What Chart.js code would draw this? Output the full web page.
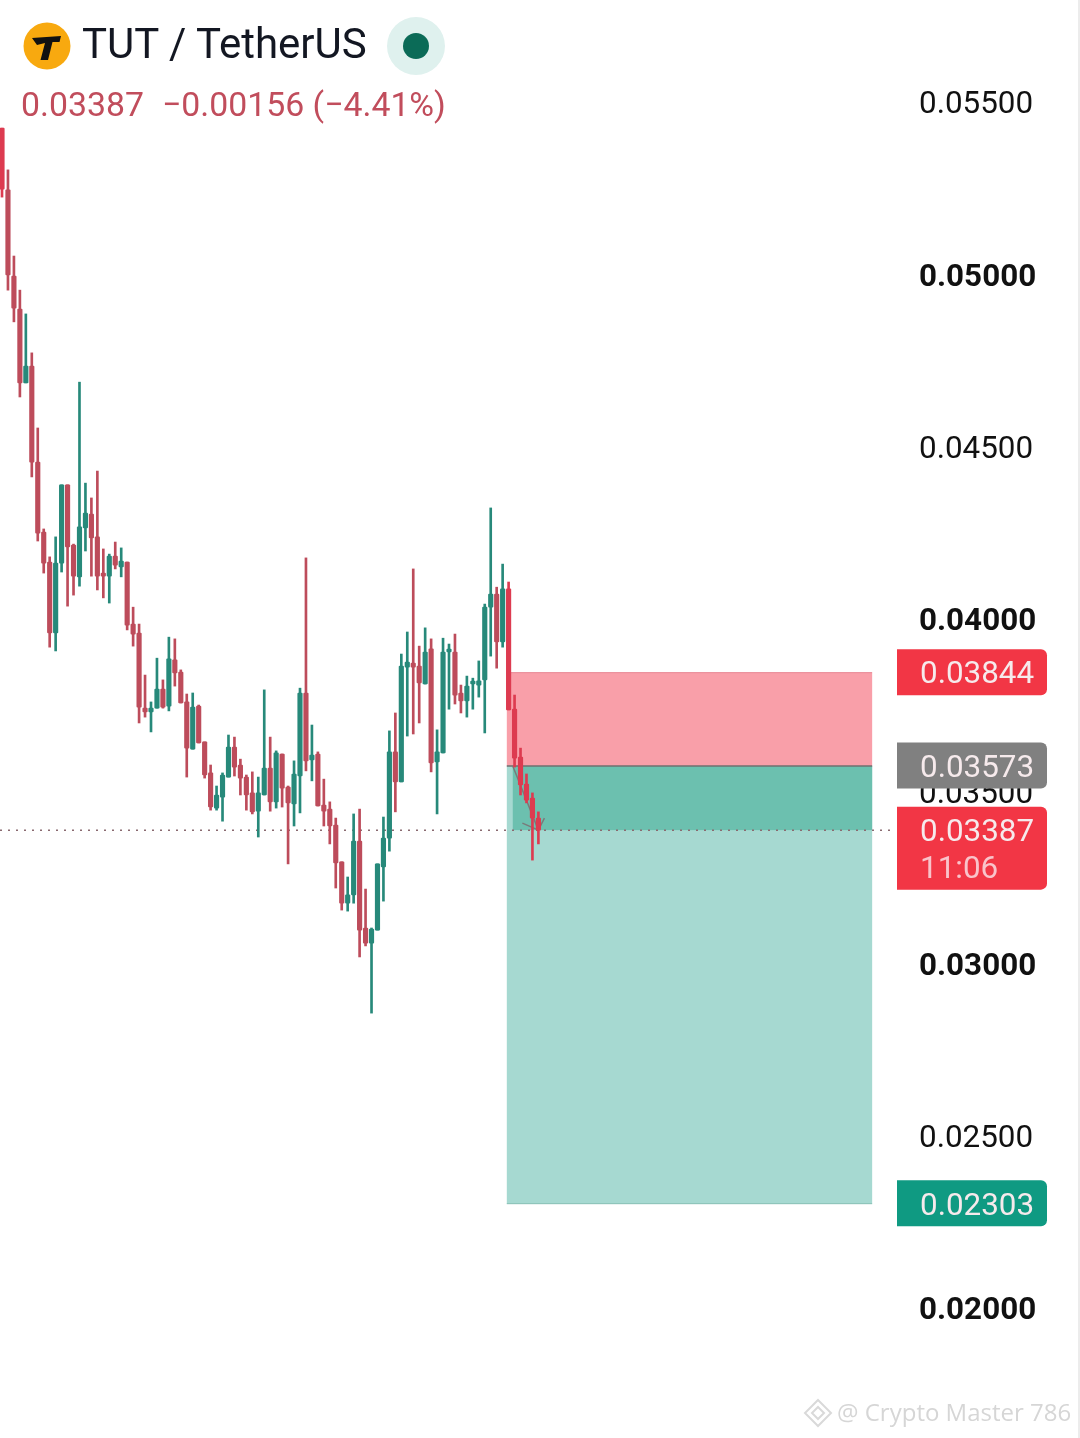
<!DOCTYPE html>
<html>
<head>
<meta charset="utf-8">
<title>TUT / TetherUS</title>
<script src="https://cdn.jsdelivr.net/npm/chart.js@4"></script>
<style>
  html, body { margin: 0; padding: 0; background: #fff; }
  #page { position: relative; width: 1080px; height: 1438px; overflow: hidden; font-family: Roboto, sans-serif; background: #fff; }
  #chartBox { position: absolute; left: 0; top: 0; width: 1080px; height: 1438px; }
  #edge { position: absolute; left: 1078px; top: 0; width: 2px; height: 1438px; background: #ececec; }
  .txt { position: absolute; white-space: pre; line-height: 1; }
  #pair { left: 82px; top: 23px; font-size: 42px; color: #131722; }
  #lastPrice { left: 21px; top: 88px; font-size: 33.8px; color: #c14d5c; }
  #change { left: 162px; top: 88px; font-size: 33.8px; color: #c14d5c; }
  #mark { left: 837px; top: 1400px; font-family: "Open Sans", sans-serif; font-size: 24px; color: #d6d6d6; }
  svg { position: absolute; }
</style>
</head>
<body>
<div id="page">
  <div id="chartBox"><canvas id="candles"></canvas></div>
  <div id="edge"></div>
  <svg style="left:22px;top:21px" width="50" height="50" viewBox="0 0 50 50">
    <circle cx="25" cy="25" r="23.5" fill="#f8a90f"/>
    <path d="M10 17 L39 15 L37.5 21 L30.5 21 L26 39 L18.5 39 L23 22 L15 24 Z" fill="#111"/>
  </svg>
  <div class="txt" id="pair">TUT / TetherUS</div>
  <svg style="left:387px;top:17px" width="58" height="58" viewBox="0 0 58 58">
    <circle cx="29" cy="29" r="29" fill="#dff1ee"/>
    <circle cx="29" cy="29" r="13" fill="#0b6b57"/>
  </svg>
  <div class="txt" id="lastPrice">0.03387</div>
  <div class="txt" id="change">−0.00156 (−4.41%)</div>
  <svg style="left:803px;top:1398px" width="30" height="30" viewBox="0 0 30 30" fill="none" stroke="#d9d9d9" stroke-width="2">
    <path d="M15 2 L28 15 L15 28 L2 15 Z"/>
    <path d="M15 9 L21 15 L15 21 L9 15 Z"/>
  </svg>
  <div class="txt" id="mark">@ Crypto Master 786</div>
</div>

<script>
// --- Candle data ---
const opens = [
  0.05424, 0.05245, 0.04995, 0.04899, 0.04685, 0.04734, 0.04455, 0.04252, 0.04165, 0.03959,
  0.04162, 0.04389, 0.04214, 0.04122, 0.04264, 0.04304, 0.04238, 0.04133, 0.04124, 0.04182,
  0.04151, 0.04165, 0.03985, 0.03959, 0.03741, 0.03730, 0.03741, 0.03796, 0.03747, 0.03881,
  0.03846, 0.03759, 0.03622, 0.03747, 0.03643, 0.03553, 0.03451, 0.03483, 0.03541, 0.03628,
  0.03576, 0.03541, 0.03495, 0.03442, 0.03489, 0.03567, 0.03469, 0.03608, 0.03512, 0.03463,
  0.03544, 0.03785, 0.03591, 0.03608, 0.03460, 0.03448, 0.03402, 0.03295, 0.03175, 0.03199,
  0.03355, 0.03103, 0.03059, 0.03097, 0.03280, 0.03364, 0.03614, 0.03527, 0.03860, 0.03872,
  0.03863, 0.03811, 0.03913, 0.03585, 0.03611, 0.03904, 0.03904, 0.03785, 0.03762, 0.03811,
  0.03808, 0.03823, 0.04034, 0.04072, 0.03933, 0.04087, 0.03738, 0.03599, 0.03521, 0.03480,
  0.03422
];
const highs = [
  0.05424, 0.05303, 0.05053, 0.04954, 0.04885, 0.04772, 0.04554, 0.04261, 0.04180, 0.04238,
  0.04389, 0.04389, 0.04217, 0.04687, 0.04394, 0.04351, 0.04429, 0.04203, 0.04188, 0.04223,
  0.04206, 0.04165, 0.04034, 0.03985, 0.03837, 0.03759, 0.03886, 0.03823, 0.03947, 0.03942,
  0.03852, 0.03782, 0.03785, 0.03750, 0.03643, 0.03576, 0.03515, 0.03553, 0.03663, 0.03657,
  0.03593, 0.03547, 0.03556, 0.03541, 0.03794, 0.03657, 0.03617, 0.03608, 0.03515, 0.03588,
  0.03799, 0.04177, 0.03692, 0.03614, 0.03535, 0.03469, 0.03422, 0.03295, 0.03251, 0.03434,
  0.03448, 0.03216, 0.03103, 0.03289, 0.03425, 0.03675, 0.03727, 0.03898, 0.03962, 0.04145,
  0.03921, 0.03974, 0.03942, 0.03678, 0.03944, 0.03927, 0.03956, 0.03808, 0.03834, 0.03828,
  0.03878, 0.04043, 0.04322, 0.04092, 0.04159, 0.04107, 0.03779, 0.03625, 0.03550, 0.03495,
  0.03440
];
const lows = [
  0.05224, 0.04954, 0.04862, 0.04644, 0.04685, 0.04412, 0.04226, 0.04133, 0.03918, 0.03907,
  0.04136, 0.04037, 0.04069, 0.04095, 0.04197, 0.04124, 0.04084, 0.04061, 0.04046, 0.04145,
  0.04122, 0.03968, 0.03921, 0.03698, 0.03715, 0.03672, 0.03741, 0.03741, 0.03733, 0.03805,
  0.03756, 0.03541, 0.03622, 0.03640, 0.03538, 0.03445, 0.03445, 0.03413, 0.03541, 0.03544,
  0.03489, 0.03445, 0.03434, 0.03367, 0.03489, 0.03442, 0.03451, 0.03454, 0.03289, 0.03399,
  0.03437, 0.03559, 0.03530, 0.03457, 0.03399, 0.03347, 0.03219, 0.03155, 0.03152, 0.03175,
  0.03019, 0.03051, 0.02856, 0.03097, 0.03181, 0.03326, 0.03440, 0.03527, 0.03660, 0.03666,
  0.03698, 0.03811, 0.03556, 0.03434, 0.03611, 0.03738, 0.03753, 0.03727, 0.03715, 0.03738,
  0.03773, 0.03669, 0.03892, 0.03857, 0.03918, 0.03736, 0.03570, 0.03489, 0.03466, 0.03300,
  0.03347
];
const closes = [
  0.05247, 0.04998, 0.04902, 0.04685, 0.04734, 0.04455, 0.04249, 0.04162, 0.03959, 0.04162,
  0.04389, 0.04209, 0.04124, 0.04267, 0.04307, 0.04235, 0.04124, 0.04124, 0.04182, 0.04156,
  0.04168, 0.03982, 0.03956, 0.03744, 0.03730, 0.03741, 0.03796, 0.03744, 0.03884, 0.03843,
  0.03756, 0.03625, 0.03744, 0.03640, 0.03547, 0.03454, 0.03489, 0.03547, 0.03628, 0.03570,
  0.03538, 0.03489, 0.03440, 0.03495, 0.03567, 0.03469, 0.03611, 0.03509, 0.03466, 0.03550,
  0.03785, 0.03588, 0.03605, 0.03457, 0.03442, 0.03399, 0.03292, 0.03175, 0.03199, 0.03355,
  0.03097, 0.03059, 0.03100, 0.03289, 0.03364, 0.03614, 0.03527, 0.03863, 0.03875, 0.03860,
  0.03814, 0.03904, 0.03582, 0.03614, 0.03904, 0.03910, 0.03779, 0.03762, 0.03805, 0.03814,
  0.03820, 0.04034, 0.04072, 0.03933, 0.04087, 0.03736, 0.03596, 0.03518, 0.03474, 0.03422,
  0.03387
];
const tickPrices = [0.055, 0.05, 0.045, 0.04, 0.035, 0.03, 0.025, 0.02];
const boldTicks = [0.05, 0.04, 0.03, 0.02];

// --- Position tool levels ---
const stopPrice = 0.03844;
const entryPrice = 0.03573;
const lastPrice = 0.03387;
const targetPrice = 0.02303;
const countdown = '11:06';

// --- Styles ---
const RED = '#bd4c5b';
const BRIGHT_RED = '#dd3b50';
const GREEN = '#27897a';
const brightCandles = [0, 85, 86, 87, 88, 89, 90];
const colors = opens.map((o, i) => {
    if (closes[i] >= o) return GREEN;
    return brightCandles.includes(i) ? BRIGHT_RED : RED;
});

const bodyData = opens.map((o, i) => ({ x: i, y: [Math.min(o, closes[i]), Math.max(o, closes[i])] }));
const wickData = opens.map((o, i) => ({ x: i, y: [lows[i], highs[i]] }));

// x scale runs in candle indexes, one candle is 5.96px wide
const X_MIN = -0.336;
const X_MAX = 153.86;
const BOX_START = 84.7;
const BOX_FILLED_START = 85.7;
const BOX_END = 146;
const LINE_END = 149;

const positionBoxes = {
    id: 'positionBoxes',
    beforeDatasetsDraw(chart) {
        const { ctx, scales: { x, y } } = chart;
        const left = x.getPixelForValue(BOX_START);
        const filledLeft = x.getPixelForValue(BOX_FILLED_START);
        const right = x.getPixelForValue(BOX_END);
        const stopY = y.getPixelForValue(stopPrice);
        const entryY = y.getPixelForValue(entryPrice);
        const lastY = y.getPixelForValue(lastPrice);
        const targetY = y.getPixelForValue(targetPrice);
        ctx.save();
        ctx.fillStyle = '#f99fa9';
        ctx.fillRect(left, stopY, right - left, entryY - stopY);
        ctx.fillStyle = '#a6d9d1';
        ctx.fillRect(left, entryY, right - left, targetY - entryY);
        ctx.fillStyle = '#6cc0af';
        ctx.fillRect(filledLeft, entryY, right - filledLeft, lastY - entryY);
        ctx.lineWidth = 1;
        ctx.strokeStyle = '#e88893';
        ctx.beginPath(); ctx.moveTo(left, stopY); ctx.lineTo(right, stopY); ctx.stroke();
        ctx.strokeStyle = '#85bfb5';
        ctx.beginPath(); ctx.moveTo(left, targetY); ctx.lineTo(right, targetY); ctx.stroke();
        ctx.strokeStyle = '#6f6f6f';
        ctx.lineWidth = 1.5;
        ctx.beginPath(); ctx.moveTo(left, entryY); ctx.lineTo(right, entryY); ctx.stroke();

        // trend arrow from the entry down to the last price
        const tipX = x.getPixelForValue(90);
        ctx.strokeStyle = '#7a7a7a';
        ctx.lineWidth = 1.5;
        ctx.beginPath();
        ctx.moveTo(filledLeft, entryY);
        ctx.lineTo(tipX, lastY);
        ctx.moveTo(tipX - 16, lastY - 7);
        ctx.lineTo(tipX, lastY);
        ctx.lineTo(tipX + 6, lastY - 12);
        ctx.stroke();
        ctx.restore();
    }
};

function drawBadge(ctx, top, height, fill) {
    ctx.fillStyle = fill;
    ctx.beginPath();
    ctx.roundRect(897, top, 150, height, [0, 6, 6, 0]);
    ctx.fill();
}

const priceBadges = {
    id: 'priceBadges',
    afterDraw(chart) {
        const { ctx, scales: { y } } = chart;
        const stopY = y.getPixelForValue(stopPrice);
        const entryY = y.getPixelForValue(entryPrice);
        const lastY = y.getPixelForValue(lastPrice);
        const targetY = y.getPixelForValue(targetPrice);
        ctx.save();
        drawBadge(ctx, stopY - 23.5, 46, '#f23645');
        drawBadge(ctx, entryY - 23.5, 46, '#808080');
        drawBadge(ctx, lastY - 23.5, 83, '#f23645');
        drawBadge(ctx, targetY - 23.5, 46, '#0f9a82');
        ctx.font = '31.4px Roboto';
        ctx.textAlign = 'left';
        ctx.textBaseline = 'middle';
        ctx.fillStyle = '#f6eaec';
        ctx.fillText(stopPrice.toFixed(5), 920, stopY + 3);
        ctx.fillText(entryPrice.toFixed(5), 920, entryY + 3);
        ctx.fillText(lastPrice.toFixed(5), 920, lastY + 3);
        ctx.fillText(targetPrice.toFixed(5), 920, targetY + 3);
        ctx.fillStyle = '#f9c3ca';
        ctx.fillText(countdown, 920, lastY + 40);
        ctx.restore();
    }
};

// --- Chart Initialization ---
const ctx = document.getElementById('candles').getContext('2d');
const candleChart = new Chart(ctx, {
    data: {
        datasets: [
            {
                type: 'bar',
                data: bodyData,
                backgroundColor: colors,
                barThickness: 4.5,
                minBarLength: 3,
                grouped: false,
                borderRadius: 1,
                borderSkipped: false
            },
            {
                type: 'bar',
                data: wickData,
                backgroundColor: colors,
                barThickness: 2,
                grouped: false,
                borderSkipped: false
            },
            {
                type: 'line',
                data: [{ x: X_MIN, y: lastPrice }, { x: LINE_END, y: lastPrice }],
                borderColor: '#8a6a70',
                borderWidth: 1.5,
                borderDash: [2, 6],
                pointRadius: 0
            }
        ]
    },
    options: {
        responsive: true,
        maintainAspectRatio: false,
        animation: false,
        devicePixelRatio: 1,
        layout: { padding: 0 },
        scales: {
            x: { type: 'linear', min: X_MIN, max: X_MAX, display: false, offset: false },
            y: {
                position: 'right',
                min: 0.01623,
                max: 0.05796,
                border: { display: false },
                grid: { display: false, drawTicks: false },
                afterFit(scale) {
                    scale.width = 161;
                    // tick labels sit well inside the plot, no need for room above and below
                    scale.paddingTop = 0;
                    scale.paddingBottom = 0;
                },
                afterBuildTicks(scale) { scale.ticks = tickPrices.map(v => ({ value: v })); },
                ticks: {
                    padding: 0,
                    labelOffset: 3.5,
                    color: '#111111',
                    autoSkip: false,
                    callback: value => value.toFixed(5),
                    font: c => ({
                        family: 'Roboto',
                        size: 31.4,
                        weight: c.tick && boldTicks.includes(c.tick.value) ? 700 : 400
                    })
                }
            }
        },
        plugins: { legend: { display: false }, title: { display: false }, tooltip: { enabled: false } }
    },
    plugins: [positionBoxes, priceBadges]
});
</script>
</body>
</html>
